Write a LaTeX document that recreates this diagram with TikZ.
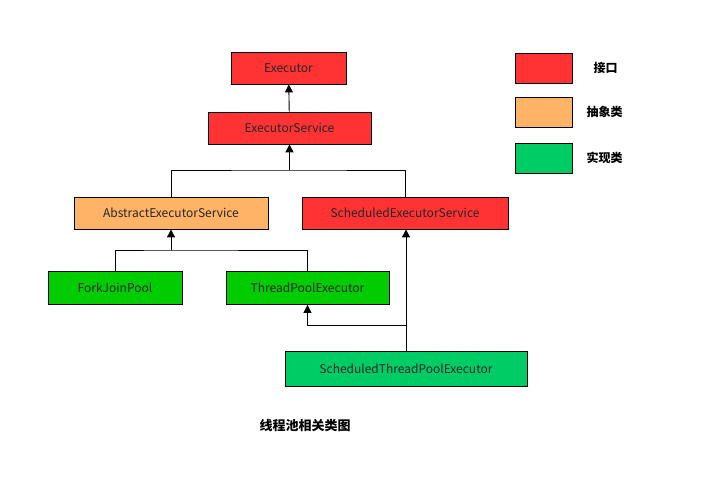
\documentclass[tikz,border=0pt]{standalone}
\usepackage{fontspec}
\setmainfont{Noto Sans CJK SC}
\usetikzlibrary{arrows.meta,calc}
\definecolor{ifred}{RGB}{255,51,51}
\definecolor{absorange}{RGB}{255,179,102}
\definecolor{impgreen}{RGB}{0,204,0}
\definecolor{impgreen2}{RGB}{0,204,102}
\tikzset{
  cls/.style={draw=black,line width=0.8pt,minimum height=32pt,inner sep=0pt,font=\fontsize{12}{14}\selectfont,text=black!85},
  leg/.style={draw=black,line width=0.8pt,minimum width=57pt,minimum height=30pt},
  ext/.style={line width=0.9pt,-{Triangle[length=8pt,width=8pt]}},
  ln/.style={line width=0.9pt}
}
\begin{document}
\begin{tikzpicture}[x=1pt,y=1pt,yscale=-1]
  \useasboundingbox (0,0) rectangle (716,477);
  % classes
  \node[cls,fill=ifred,minimum width=115pt] (exec) at (288.5,68) {Executor};
  \node[cls,fill=ifred,minimum width=163pt] (execsvc) at (289.5,128) {ExecutorService};
  \node[cls,fill=absorange,minimum width=194pt] (abssvc) at (171,213) {AbstractExecutorService};
  \node[cls,fill=ifred,minimum width=206pt] (schedsvc) at (405,213) {ScheduledExecutorService};
  \node[cls,fill=impgreen,minimum width=134pt,minimum height=33pt] (fjpool) at (115,288) {ForkJoinPool};
  \node[cls,fill=impgreen,minimum width=163pt,minimum height=33pt] (tpexec) at (307.5,288) {ThreadPoolExecutor};
  \node[cls,fill=impgreen2,minimum width=242pt,minimum height=35pt] (stpexec) at (406,369) {ScheduledThreadPoolExecutor};
  % legend
  \node[leg,fill=ifred] (legif) at (543.5,68) {};
  \node[leg,fill=absorange] (legabs) at (543.5,112) {};
  \node[leg,fill=impgreen2] (legimp) at (543.5,158) {};
  \node[anchor=west,font=\fontsize{12}{14}\selectfont\bfseries] (tif) at (590,68) {接口};
  \node[anchor=west,font=\fontsize{12}{14}\selectfont\bfseries] (tabs) at (583,112) {抽象类};
  \node[anchor=west,font=\fontsize{12}{14}\selectfont\bfseries] (timp) at (583,158) {实现类};
  \node[font=\fontsize{13}{15}\selectfont\bfseries] (title) at (305,426) {线程池相关类图};
  % connectors
  \coordinate (j1) at (289.5,170);
  \coordinate (j2) at (171,250);
  \coordinate (j3) at (406,325);
  \draw[ext] (execsvc) -- (exec);
  \draw[ln] (abssvc.north) |- (j1) -| (schedsvc.north);
  \draw[ext] (j1) -- (execsvc);
  \draw[ln] (fjpool.north) |- (j2) -| (tpexec.north);
  \draw[ext] (j2) -- (abssvc);
  \draw[ext] (stpexec.north) -- (schedsvc.south -| stpexec.north);
  \draw[ext] (j3) -| (tpexec.south);
\end{tikzpicture}
\end{document}
